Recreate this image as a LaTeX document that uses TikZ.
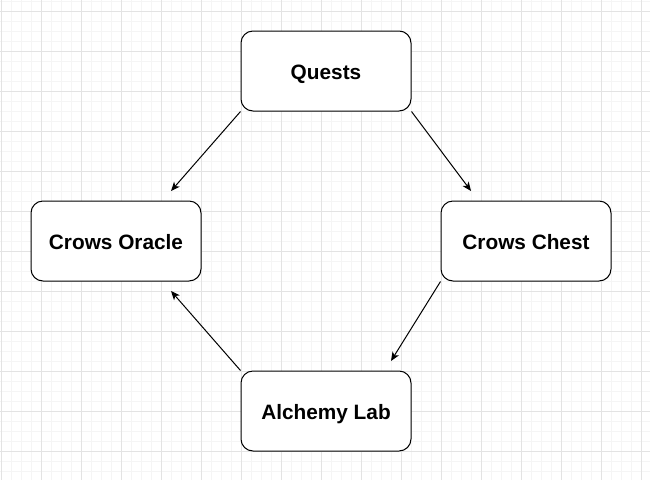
\documentclass[tikz,border=0pt]{standalone}
\usepackage{fontspec}
\setmainfont{Liberation Sans}
\usetikzlibrary{arrows.meta}
\definecolor{minorgrid}{HTML}{F5F5F5}
\definecolor{majorgrid}{HTML}{E3E3E3}
\tikzset{
  box/.style={draw=black, line width=1pt, fill=white, rounded corners=12pt,
    minimum width=170pt, minimum height=80pt, inner sep=0pt,
    text height=16pt, text depth=0pt,
    font=\fontsize{20.8}{24}\selectfont\bfseries, text=black},
  link/.style={draw=black, line width=1pt,
    -{Stealth[length=9pt,width=7.5pt,inset=2.5pt]}},
}
\begin{document}
\begin{tikzpicture}[x=1pt,y=-1pt]
\useasboundingbox (0,0) rectangle (650,480);
\fill[white] (0,0) rectangle (650,480);
\foreach \i in {1,11,...,650} \draw[minorgrid, line width=1pt] (\i,0) -- (\i,480);
\foreach \i in {1,11,...,480} \draw[minorgrid, line width=1pt] (0,\i) -- (650,\i);
\foreach \i in {1,41,...,650} \draw[majorgrid, line width=1pt] (\i,0) -- (\i,480);
\foreach \i in {11,51,...,480} \draw[majorgrid, line width=1pt] (0,\i) -- (650,\i);

\node[box] (quests) at (326,71) {Quests};
\node[box] (oracle) at (116,241) {Crows Oracle};
\node[box] (chest) at (526,241) {Crows Chest};
\node[box] (lab) at (326,411) {Alchemy Lab};

\coordinate (tOracleTop) at (171,191);
\coordinate (tChestTop) at (471,191);
\coordinate (tLabTop) at (391,361);
\coordinate (tOracleBot) at (171,291);

\draw[link] (quests.south west) -- (tOracleTop);
\draw[link] (quests.south east) -- (tChestTop);
\draw[link] (chest.south west) -- (tLabTop);
\draw[link] (lab.north west) -- (tOracleBot);
\end{tikzpicture}
\end{document}
